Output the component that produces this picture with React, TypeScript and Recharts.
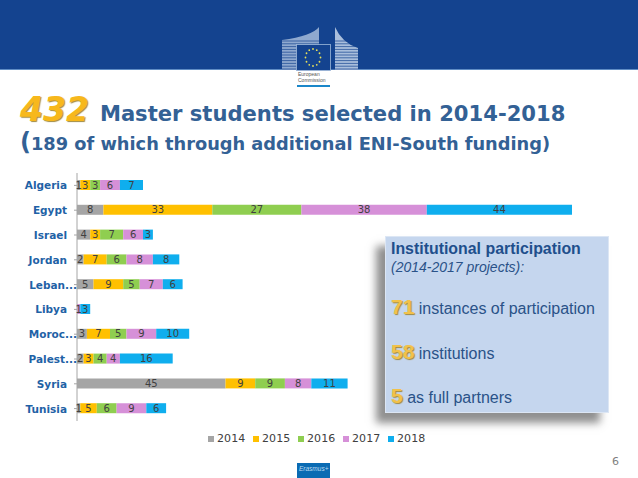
import React from 'react';
import { BarChart, Bar, XAxis, YAxis, LabelList, Legend } from 'recharts';

const categories = ['Algeria', 'Egypt', 'Israel', 'Jordan', 'Leban...', 'Libya', 'Moroc...', 'Palest...', 'Syria', 'Tunisia'];
const years = ['2014', '2015', '2016', '2017', '2018'];
const values2014 = [1, 8, 4, 2, 5, 0, 3, 2, 45, 1];
const values2015 = [3, 33, 3, 7, 9, 0, 7, 3, 9, 5];
const values2016 = [3, 27, 7, 6, 5, 0, 5, 4, 9, 6];
const values2017 = [6, 38, 6, 8, 7, 1, 9, 4, 8, 9];
const values2018 = [7, 44, 3, 8, 6, 3, 10, 16, 11, 6];
const colors = ['#A5A5A5', '#FFC000', '#8FCE50', '#D690D8', '#0FAEEE'];

const seriesValues = [values2014, values2015, values2016, values2017, values2018];
const data = categories.map((category, i) => {
  const row: Record<string, string | number> = { category };
  years.forEach((y, s) => {
    row[y] = seriesValues[s][i];
  });
  return row;
});

const VERDANA = '"DejaVu Sans", sans-serif';
const ARIAL = '"Liberation Sans", Arial, sans-serif';

// truncated names run on up to the axis, the others end a bit before it
const CategoryTick = ({ x, y, payload }: any) => {
  const cut = String(payload.value).endsWith('...');
  return (
    <text
      x={cut ? x + 5 : x - 5}
      y={y + 4}
      textAnchor="end"
      fontFamily={VERDANA}
      fontWeight="bold"
      fontSize={10.5}
      fill="#1F62A6"
    >
      {payload.value}
    </text>
  );
};

const YearLegend = () => (
  <div style={{ display: 'flex', fontFamily: VERDANA, fontSize: 11, color: '#404040', letterSpacing: 0.1 }}>
    {years.map((y, i) => (
      <div key={y} style={{ display: 'flex', alignItems: 'center', width: 45 }}>
        <span style={{ width: 6, height: 6, background: colors[i], marginRight: 3 }} />
        {y}
      </div>
    ))}
  </div>
);

// EC building with the flag in front of it
const Logo = () => (
  <svg width={80} height={46} viewBox="0 0 80 46" style={{ position: 'absolute', left: 280, top: 25 }}>
    <path d="M2 15 L2 45 L39 45 L39 2 Q32 11 2 15 Z" fill="#8FA9CF" />
    <path d="M55 2 L55 45 L78 45 L78 23 Q62 18 55 2 Z" fill="#A9BEDC" />
    {Array.from({ length: 11 }, (_, i) => (
      <line key={i} x1={2} x2={78} y1={16 + i * 2.8} y2={16 + i * 2.8} stroke="#14438F" strokeWidth={0.7} />
    ))}
    <rect x={16.5} y={19.5} width={34} height={26} fill="#14438F" stroke="#9FB8DA" strokeWidth={0.8} />
    {Array.from({ length: 12 }, (_, i) => (
      <circle
        key={i}
        cx={33 + 7.5 * Math.cos((i * Math.PI) / 6)}
        cy={32.5 + 8.5 * Math.sin((i * Math.PI) / 6)}
        r={0.9}
        fill="#E6E05A"
      />
    ))}
  </svg>
);

export default function App() {
  return (
    <div style={{ position: 'absolute', left: 0, top: 0, width: 638, height: 478, background: '#fff', overflow: 'hidden' }}>
      <div style={{ position: 'absolute', left: 0, top: 0, width: 638, height: 69, background: '#14438F', borderBottom: '1px solid #5F8CC4' }} />
      <Logo />
      <div style={{ position: 'absolute', left: 298, top: 71, fontFamily: ARIAL, fontSize: 5, lineHeight: '6px', color: '#555' }}>
        European<br />Commission
      </div>
      <div style={{ position: 'absolute', left: 297, top: 85, width: 33, height: 2, background: '#1B87C9' }} />

      <div style={{ position: 'absolute', left: 20, top: 90, whiteSpace: 'nowrap', color: '#336195', fontFamily: VERDANA, fontWeight: 'bold', fontSize: 21.1, lineHeight: '40px' }}>
        <span style={{ fontStyle: 'italic', fontSize: 33, color: '#F7B81C', textShadow: '1px 1px 1px #A08A40', marginRight: 11 }}>432</span>
        Master students selected in 2014-2018
      </div>
      <div style={{ position: 'absolute', left: 20, top: 126, whiteSpace: 'nowrap', color: '#336195', fontFamily: VERDANA, fontWeight: 'bold', fontSize: 17.8, lineHeight: '32px' }}>
        <span style={{ fontSize: 24 }}>(</span>189 of which through additional ENI-South funding)
      </div>

      <div style={{ position: 'absolute', left: 0, top: 0 }}>
        <BarChart
          width={638}
          height={478}
          data={data}
          layout="vertical"
          barSize={10}
          margin={{ top: 173, right: 66, left: 0, bottom: 43 }}
        >
          <XAxis type="number" domain={[0, 150]} hide />
          <YAxis
            type="category"
            dataKey="category"
            width={77}
            interval={0}
            tick={<CategoryTick />}
            tickSize={3}
            axisLine={{ stroke: '#A6A6A6' }}
            tickLine={{ stroke: '#A6A6A6' }}
          />
          <Legend
            content={<YearLegend />}
            wrapperStyle={{ position: 'absolute', left: 208, top: 432, width: 240, height: 14 }}
          />
          {years.map((y, i) => (
            <Bar key={y} dataKey={y} stackId="a" fill={colors[i]} isAnimationActive={false}>
              <LabelList
                dataKey={y}
                position="center"
                fontFamily={VERDANA}
                fontSize={10}
                fill="#404040"
                formatter={(v: any) => (v ? v : '')}
              />
            </Bar>
          ))}
        </BarChart>
      </div>

      <div
        style={{
          position: 'absolute',
          left: 385,
          top: 236,
          width: 224,
          height: 177,
          boxSizing: 'border-box',
          padding: '3px 0 0 5px',
          background: '#C5D6EE',
          border: '1px solid #DCE6F4',
          boxShadow: '-9px 10px 8px rgba(70,70,70,0.6)',
          fontFamily: ARIAL,
          color: '#2A5288',
          whiteSpace: 'nowrap',
        }}
      >
        <div style={{ fontWeight: 'bold', fontSize: 15.9, lineHeight: '18px', color: '#1F4F8C' }}>Institutional participation</div>
        <div style={{ fontStyle: 'italic', fontSize: 14, lineHeight: '18px' }}>(2014-2017 projects):</div>
        {[
          ['71', ' instances of participation', 18],
          ['58', ' institutions', 18],
          ['5', ' as full partners', 17],
        ].map(([n, label, gap]) => (
          <div key={n as string} style={{ marginTop: gap as number, fontSize: 16, lineHeight: '25px' }}>
            <b style={{ fontSize: 21, color: '#F2C14A', textShadow: '1px 1px 1px #A08A40' }}>{n}</b>
            {label}
          </div>
        ))}
      </div>

      <div style={{ position: 'absolute', left: 297, top: 463, width: 33, height: 15, background: '#0A6BB3', color: '#BFDDF2', fontFamily: ARIAL, fontStyle: 'italic', fontSize: 6.5, lineHeight: '12px', paddingLeft: 2, boxSizing: 'border-box' }}>
        Erasmus+
      </div>
      <div style={{ position: 'absolute', left: 612, top: 455, color: '#7F7F7F', fontFamily: VERDANA, fontSize: 11 }}>6</div>
    </div>
  );
}
